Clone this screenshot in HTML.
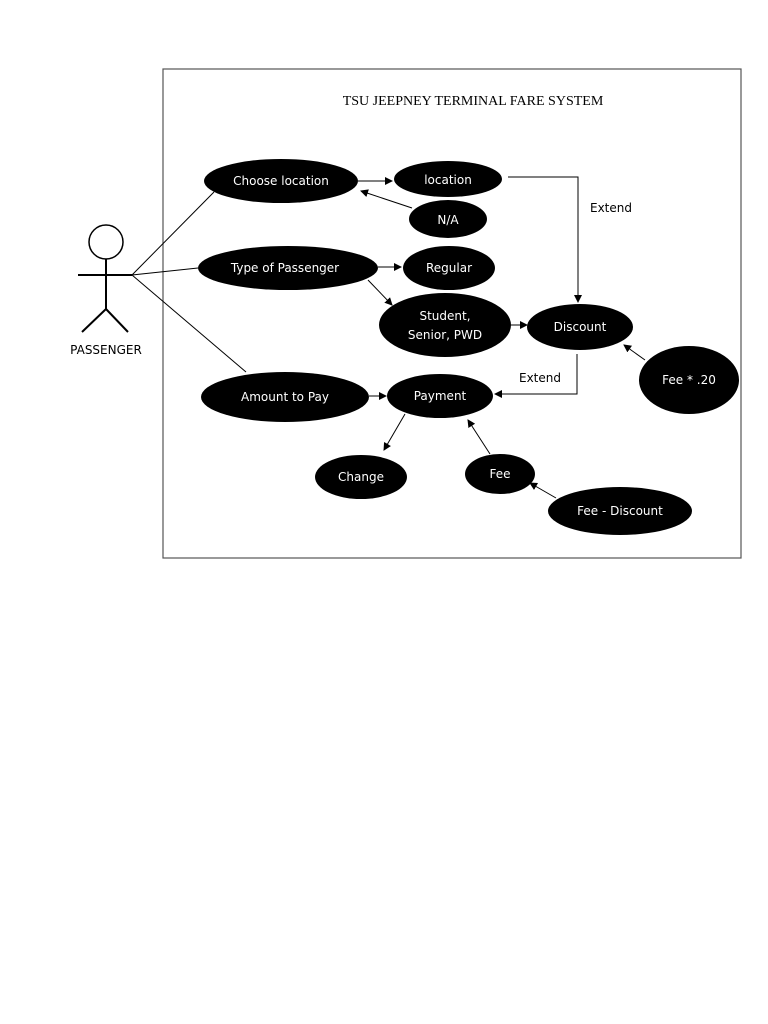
<!DOCTYPE html>
<html><head><meta charset="utf-8"><style>
html,body{margin:0;padding:0;background:#fff;}
svg{display:block;}
text{font-family:"DejaVu Sans","Liberation Sans",sans-serif;font-size:12px;}
.w{fill:#fff;text-anchor:middle;}
.b{fill:#000;}
</style></head><body>
<svg width="768" height="1024" viewBox="0 0 768 1024" xmlns="http://www.w3.org/2000/svg">
<defs><marker id="a" markerWidth="8" markerHeight="8" refX="7" refY="4" orient="auto" markerUnits="userSpaceOnUse"><path d="M0,0 L8,4 L0,8 z" fill="#000"/></marker></defs>
<rect x="163" y="69" width="578" height="489" fill="none" stroke="#555" stroke-width="1.2"/>
<text x="473" y="105" text-anchor="middle" style="font-family:'Liberation Serif',serif;font-size:14px">TSU JEEPNEY TERMINAL FARE SYSTEM</text>
<circle cx="106" cy="242" r="17" fill="none" stroke="#000" stroke-width="1.5"/>
<g stroke="#000" stroke-width="2" fill="none">
<line x1="106" y1="259" x2="106" y2="310"/><line x1="78" y1="275" x2="132" y2="275"/>
<line x1="106" y1="309" x2="82" y2="332"/><line x1="106" y1="309" x2="128" y2="332"/></g>
<text x="106" y="354" text-anchor="middle" class="b">PASSENGER</text>
<g stroke="#000" stroke-width="1" fill="none">
<line x1="132" y1="275" x2="214" y2="192"/>
<line x1="132" y1="275" x2="198" y2="268"/>
<line x1="132" y1="275" x2="246" y2="372"/>
<line x1="358" y1="181" x2="392" y2="181" marker-end="url(#a)"/>
<line x1="412" y1="208" x2="361" y2="191" marker-end="url(#a)"/>
<line x1="378" y1="267" x2="401" y2="267" marker-end="url(#a)"/>
<line x1="368" y1="280" x2="392" y2="305" marker-end="url(#a)"/>
<line x1="511" y1="325" x2="527" y2="325" marker-end="url(#a)"/>
<polyline points="508,177 578,177 578,302" marker-end="url(#a)"/>
<polyline points="577,354 577,394 495,394" marker-end="url(#a)"/>
<line x1="645" y1="360" x2="624" y2="345" marker-end="url(#a)"/>
<line x1="369" y1="396" x2="386" y2="396" marker-end="url(#a)"/>
<line x1="405" y1="414" x2="384" y2="450" marker-end="url(#a)"/>
<line x1="490" y1="454" x2="468" y2="420" marker-end="url(#a)"/>
<line x1="556" y1="498" x2="530" y2="483" marker-end="url(#a)"/>
</g>
<text x="590" y="212" class="b">Extend</text>
<text x="519" y="382" class="b">Extend</text>
<g fill="#000">
<ellipse cx="281" cy="181" rx="77" ry="22"/>
<ellipse cx="448" cy="179" rx="54" ry="18"/>
<ellipse cx="448" cy="219" rx="39" ry="19"/>
<ellipse cx="288" cy="268" rx="90" ry="22"/>
<ellipse cx="449" cy="268" rx="46" ry="22"/>
<ellipse cx="445" cy="325" rx="66" ry="32"/>
<ellipse cx="580" cy="327" rx="53" ry="23"/>
<ellipse cx="689" cy="380" rx="50" ry="34"/>
<ellipse cx="285" cy="397" rx="84" ry="25"/>
<ellipse cx="440" cy="396" rx="53" ry="22"/>
<ellipse cx="361" cy="477" rx="46" ry="22"/>
<ellipse cx="500" cy="474" rx="35" ry="20"/>
<ellipse cx="620" cy="511" rx="72" ry="24"/>
</g>
<text x="281" y="185" class="w">Choose location</text>
<text x="448" y="184" class="w">location</text>
<text x="448" y="224" class="w">N/A</text>
<text x="285" y="272" class="w">Type of Passenger</text>
<text x="449" y="272" class="w">Regular</text>
<text x="445" y="320" class="w">Student,</text>
<text x="445" y="339" class="w">Senior, PWD</text>
<text x="580" y="331" class="w">Discount</text>
<text x="689" y="384" class="w">Fee * .20</text>
<text x="285" y="401" class="w">Amount to Pay</text>
<text x="440" y="400" class="w">Payment</text>
<text x="361" y="481" class="w">Change</text>
<text x="500" y="478" class="w">Fee</text>
<text x="620" y="515" class="w">Fee - Discount</text>
</svg>
</body></html>
